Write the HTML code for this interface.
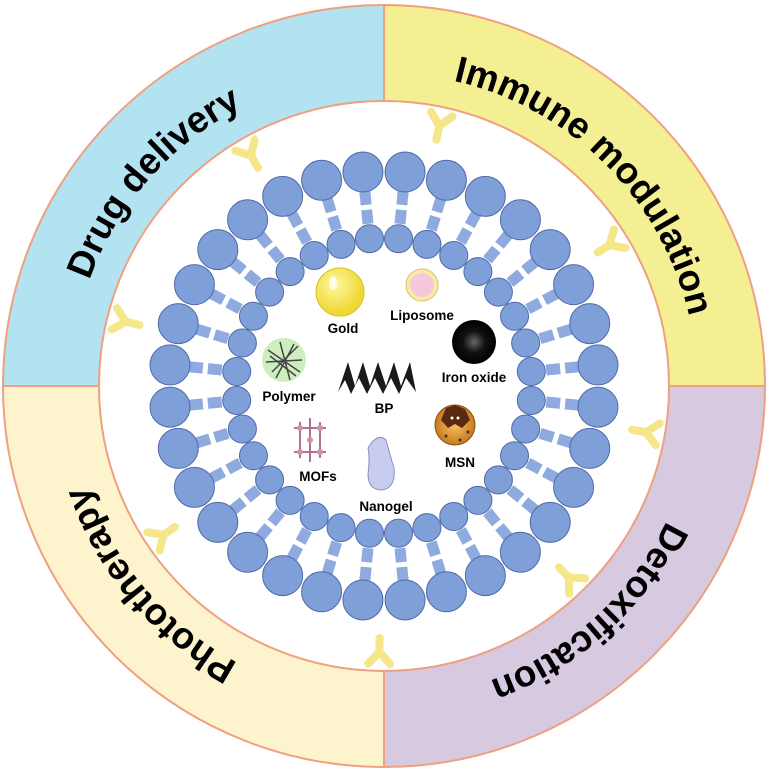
<!DOCTYPE html>
<html><head><meta charset="utf-8"><style>
html,body{margin:0;padding:0;background:#fff;}
svg{display:block;}
text{font-family:"Liberation Sans",sans-serif;font-weight:bold;}
</style></head><body>
<svg id="s" width="769" height="770" viewBox="0 0 769 770" xmlns="http://www.w3.org/2000/svg">
<defs>
<radialGradient id="fe" cx="50%" cy="50%" r="50%"><stop offset="0" stop-color="#666"/><stop offset="0.5" stop-color="#111"/><stop offset="1" stop-color="#000"/></radialGradient>
<radialGradient id="au" cx="40%" cy="35%" r="60%"><stop offset="0" stop-color="#fff7a0"/><stop offset="1" stop-color="#eed830"/></radialGradient>
<radialGradient id="msn" cx="50%" cy="50%" r="50%"><stop offset="0" stop-color="#f6c060"/><stop offset="1" stop-color="#c97a20"/></radialGradient>
<path id="cp" d="M384,73 A313,313 0 1 1 384,699 A313,313 0 1 1 384,73"/>
</defs>
<path d="M384,386 L384,5 A381,381 0 0 0 3,386 Z" fill="#b3e3f0"/>
<path d="M384,386 L384,5 A381,381 0 0 1 765,386 Z" fill="#f5ef94"/>
<path d="M384,386 L765,386 A381,381 0 0 1 384,767 Z" fill="#d6c9e0"/>
<path d="M384,386 L384,767 A381,381 0 0 1 3,386 Z" fill="#fdf3cc"/>
<circle cx="384" cy="386" r="381" fill="none" stroke="#eea080" stroke-width="2"/>
<line x1="384" y1="5" x2="384" y2="101" stroke="#eea080" stroke-width="2"/>
<line x1="384" y1="671" x2="384" y2="767" stroke="#eea080" stroke-width="2"/>
<line x1="3" y1="386" x2="99" y2="386" stroke="#eea080" stroke-width="2"/>
<line x1="669" y1="386" x2="765" y2="386" stroke="#eea080" stroke-width="2"/>
<circle cx="384" cy="386" r="285" fill="#fff" stroke="#eea080" stroke-width="2"/>
<g font-size="37" fill="#000">
<text><textPath href="#cp" startOffset="86.5%" text-anchor="middle">Drug delivery</textPath></text>
<text><textPath href="#cp" startOffset="12.5%" text-anchor="middle">Immune modulation</textPath></text>
<text><textPath href="#cp" startOffset="38.3%" text-anchor="middle">Detoxification</textPath></text>
<text><textPath href="#cp" startOffset="63.8%" text-anchor="middle">Phototherapy</textPath></text>
</g>
<g id="lip"></g>
<g id="ab"></g>
<circle cx="340" cy="292" r="24" fill="url(#au)" stroke="#d8c020"/>
<ellipse cx="333" cy="283" rx="4" ry="7" fill="#fff" opacity="0.8"/>
<circle cx="422" cy="285" r="16" fill="#fbe9a8" stroke="#d8c070"/>
<circle cx="422" cy="285" r="12" fill="#f6c8dc"/>
<circle cx="474" cy="342" r="22" fill="url(#fe)"/>
<circle cx="284" cy="360" r="22" fill="#cfeec0"/>
<path d="M268,350 L300,372 M272,372 L298,346 M266,362 L302,360 M280,342 L290,380 M270,356 L296,376 M276,378 L294,344" stroke="#444" stroke-width="1.5" fill="none"/>
<path d="M338,392 L348,362 L355,386 L363,362 L370,386 L378,362 L386,386 L394,362 L401,386 L410,362 L416,392 L406,378 L399,394 L391,378 L383,394 L375,378 L367,394 L359,378 L351,394 L345,380 Z" fill="#1a1a1a"/>
<circle cx="455" cy="425" r="20" fill="url(#msn)" stroke="#8a5010"/>
<path d="M441,420 L446,408 L455,405 L465,409 L470,420 L462,428 L455,424 L448,428 Z" fill="#5a2a10"/>
<circle cx="452" cy="418" r="1.5" fill="#fff"/><circle cx="458" cy="418" r="1.5" fill="#fff"/>
<circle cx="446" cy="436" r="1.5" fill="#333"/><circle cx="460" cy="440" r="1.5" fill="#333"/><circle cx="468" cy="432" r="1.5" fill="#333"/>
<g stroke="#b07090" stroke-width="2" fill="none">
<path d="M294,428 L326,428 M294,452 L326,452 M300,422 L300,458 M320,422 L320,458 M310,418 L310,462"/>
</g>
<g fill="#d090b0"><circle cx="300" cy="428" r="3"/><circle cx="320" cy="428" r="3"/><circle cx="300" cy="452" r="3"/><circle cx="320" cy="452" r="3"/><circle cx="310" cy="440" r="3"/></g>
<path d="M372,442 Q380,434 386,440 Q390,455 394,468 Q396,488 382,490 Q368,490 368,474 Q370,458 368,448 Z" fill="#c8cdf0" stroke="#8a90c0"/>
<g font-size="13.5" fill="#000" text-anchor="middle">
<text x="343" y="333">Gold</text>
<text x="422" y="320">Liposome</text>
<text x="474" y="382">Iron oxide</text>
<text x="289" y="401">Polymer</text>
<text x="384" y="413">BP</text>
<text x="460" y="467">MSN</text>
<text x="318" y="481">MOFs</text>
<text x="386" y="511">Nanogel</text>
</g>
</svg>
<script>
var NS="http://www.w3.org/2000/svg",cx=384,cy=386;
var g=document.getElementById("lip"),ab=document.getElementById("ab");
function el(t,a,p){var e=document.createElementNS(NS,t);for(var k in a)e.setAttribute(k,a[k]);p.appendChild(e);return e;}
var N=32;
for(var i=0;i<N;i++){
 var a=(i+0.5)*2*Math.PI/N, s=Math.sin(a), c=-Math.cos(a);
 var deg=a*180/Math.PI;
 [[163,177],[182,197]].forEach(function(seg){
  var r=(seg[0]+seg[1])/2,L=seg[1]-seg[0];
  el("rect",{x:-5.5,y:-L/2,width:11,height:L,fill:"#8eaade",transform:"translate("+(cx+s*r)+","+(cy+c*r)+") rotate("+deg+")"},g);
 });
 el("circle",{cx:cx+s*148,cy:cy+c*148,r:14,fill:"#7f9fd8",stroke:"#4f6aa8","stroke-width":1},g);
 el("circle",{cx:cx+s*215,cy:cy+c*215,r:20,fill:"#7f9fd8",stroke:"#4f6aa8","stroke-width":1},g);
}
[-30,12,58,100,136,181,236,284].forEach(function(d){
 var a=d*Math.PI/180,r=258;
 var x=cx+Math.sin(a)*r,y=cy-Math.cos(a)*r;
 var gg=el("g",{transform:"translate("+x+","+y+") rotate("+d+")"},ab);
 el("path",{d:"M0,6 L0,-8 M0,-8 L-11,-20 M0,-8 L11,-20",stroke:"#f5e68a","stroke-width":8,"stroke-linecap":"round",fill:"none"},gg);
});
</script>
</body></html>
